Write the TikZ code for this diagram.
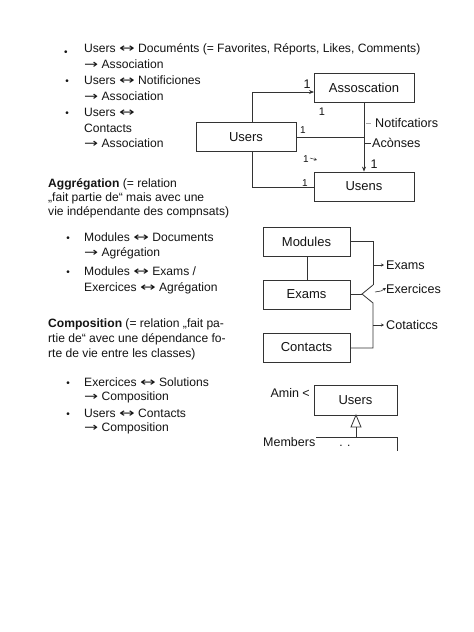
\documentclass[tikz,border=0pt]{standalone}
\usepackage{fontspec}
\setmainfont{Liberation Sans}
\newfontfamily\dvsfont{DejaVu Sans}
\usetikzlibrary{arrows.meta}
\newcommand{\myLR}{\scalebox{1.5}[1]{\dvsfont\fontsize{12.5}{14}\selectfont ↔}}
\newcommand{\myRA}{\scalebox{1.4}[1]{\dvsfont\fontsize{12}{14}\selectfont →}}
\definecolor{ink}{gray}{0.08}
\definecolor{lnc}{gray}{0.2}
\tikzset{
  txt/.style={anchor=base west, inner sep=0pt, text=ink, font=\fontsize{12.1}{14}\selectfont},
  bul/.style={anchor=base, inner sep=0pt, text=ink, font=\fontsize{10}{10}\selectfont},
  box/.style={draw=lnc, line width=0.8pt, minimum height=29pt, inner sep=0pt, text=ink, font=\fontsize{13}{15}\selectfont},
  ln/.style={draw=lnc, line width=0.8pt},
  arr/.style={-{Stealth[length=5pt,width=4pt]}},
  sarr/.style={-{Stealth[length=3pt,width=3pt]}},
  lbl/.style={inner sep=0pt, text=ink, font=\fontsize{10}{12}\selectfont},
  dlbl/.style={anchor=west, inner sep=0pt, text=ink, font=\fontsize{12.6}{14}\selectfont}
}
\begin{document}
\begin{tikzpicture}[x=1pt,y=-1pt]
\useasboundingbox (0,0) rectangle (474,632);
\fill[white] (0,0) rectangle (474,632);
\begin{scope}
\clip (0,0) rectangle (474,450);
% ---------- left text column ----------
\node[bul] (b1) at (66,55.3) {•};
\node[txt] (t1) at (84,52.3) {Users \myLR{} Documénts (= Favorites, Réports, Likes, Comments)};
\node[txt] (t2) at (84,68.3) {\myRA{} Association};
\node[bul] (b2) at (67,84.3) {•};
\node[txt] (t3) at (84,84.3) {Users \myLR{} Notificiones};
\node[txt] (t4) at (84,100.3) {\myRA{} Association};
\node[bul] (b3) at (67,116.3) {•};
\node[txt] (t5) at (84,116.3) {Users \myLR};
\node[txt] (t6) at (84,132.3) {Contacts};
\node[txt] (t7) at (84,147.3) {\myRA{} Association};

\node[txt] (a1) at (48,187.3) {\textbf{Aggrégation} (= relation};
\node[txt] (a2) at (48,201.3) {„fait partie de“ mais avec une};
\node[txt] (a3) at (48,215.3) {vie indépendante des compnsats)};
\node[bul] (b4) at (68,241.3) {•};
\node[txt] (a4) at (84,241.3) {Modules \myLR{} Documents};
\node[txt] (a5) at (84,256.3) {\myRA{} Agrégation};
\node[bul] (b5) at (68,275.3) {•};
\node[txt] (a6) at (84,275.3) {Modules \myLR{} Exams /};
\node[txt] (a7) at (84,291.3) {Exercices \myLR{} Agrégation};

\node[txt] (c1) at (48,327.3) {\textbf{Composition} (= relation „fait pa-};
\node[txt] (c2) at (48,342.3) {rtie de“ avec une dépendance fo-};
\node[txt] (c3) at (48,357.3) {rte de vie entre les classes)};
\node[bul] (b6) at (68,386.3) {•};
\node[txt] (c4) at (84,386.3) {Exercices \myLR{} Solutions};
\node[txt] (c5) at (84,400.3) {\myRA{} Composition};
\node[bul] (b7) at (68,417.3) {•};
\node[txt] (c6) at (84,417.3) {Users \myLR{} Contacts};
\node[txt] (c7) at (84,431.3) {\myRA{} Composition};

% ---------- diagram 1 ----------
\node[box, minimum width=100pt] (assoc) at (364,87.5) {Assoscation};
\node[box, minimum width=100pt] (users) at (246,137) {Users};
\node[box, minimum width=100pt] (usens) at (364,186.5) {Usens};
\coordinate (uup) at (252,122);
\coordinate (udn) at (252,152);
\coordinate (ain) at (314,92);
\draw[ln,arr] (uup) |- (ain);
\draw[ln,arr] (assoc.south) -- (usens.north);
\coordinate (jn) at (364,137);
\draw[ln] (users.east) -- (jn);
\coordinate (uin) at (314,187);
\draw[ln] (udn) |- (uin);
\node[lbl, font=\fontsize{12.5}{14}\selectfont] (l1) at (307,84) {1};
\node[lbl, font=\fontsize{11}{12}\selectfont] (l2) at (322,112) {1};
\node[lbl] (l3) at (303,130) {1};
\node[lbl] (l4) at (306,159) {1};
\coordinate (h1) at (310,158);
\coordinate (h2) at (317,160);
\draw[ln, line width=0.5pt, sarr] (h1) -- (h2);
\node[lbl, font=\fontsize{12.5}{14}\selectfont] (l5) at (374,164) {1};
\node[lbl] (l6) at (305,183) {1};
\coordinate (tk1) at (366,123);
\coordinate (tk2) at (371,123);
\draw[ln, draw=gray!70, line width=0.6pt] (tk1) -- (tk2);
\node[dlbl] (nt) at (375,123) {Notifcatiors};
\coordinate (tk3) at (364,143);
\coordinate (tk4) at (371,143);
\draw[ln, line width=0.6pt] (tk3) -- (tk4);
\node[dlbl] (ac) at (372,143) {Acònses};

% ---------- diagram 2 ----------
\node[box, minimum width=87pt] (mod) at (306.5,241.5) {Modules};
\node[box, minimum width=87pt] (exa) at (306.5,294.5) {Exams};
\node[box, minimum width=87pt] (con) at (306.5,347.5) {Contacts};
\coordinate (m1) at (307,256);
\coordinate (m2) at (307,280);
\draw[ln] (m1) -- (m2);
\coordinate (v1) at (373,241);
\coordinate (v2) at (373,285);
\draw[ln] (mod.east |- v1) -- (v1) -- (v2);
\coordinate (f0) at (362,294);
\coordinate (f1) at (373,285);
\coordinate (f2) at (373,303);
\coordinate (v3) at (373,348);
\draw[ln] (exa.east |- f0) -- (f0);
\draw[ln] (f1) -- (f0) -- (f2) -- (v3) -- (con.east |- v3);
\coordinate (e1) at (373,265);
\coordinate (e2) at (384,265);
\draw[ln, line width=0.6pt, sarr] (e1) -- (e2);
\node[dlbl] (ex1) at (386,265) {Exams};
\coordinate (e3) at (375,292);
\coordinate (e4) at (381,291);
\coordinate (e5) at (386,288);
\draw[ln, line width=0.6pt, sarr] (e3) -- (e4) -- (e5);
\node[dlbl] (ex2) at (386,289) {Exercices};
\coordinate (e6) at (373,325);
\coordinate (e7) at (384,325);
\draw[ln, line width=0.6pt, sarr] (e6) -- (e7);
\node[dlbl] (ex3) at (386,325) {Cotaticcs};

% ---------- diagram 3 ----------
\node[box, minimum width=83pt, minimum height=30pt] (us3) at (355.5,400) {Users};
\node[lbl, anchor=east, font=\fontsize{12.5}{14}\selectfont] (am) at (310,393) {Amin <};
\coordinate (tA) at (356,415);
\coordinate (tB) at (351,427);
\coordinate (tC) at (361,427);
\draw[ln, fill=white] (tA) -- (tB) -- (tC) -- cycle;
\coordinate (tD) at (356,437);
\draw[ln] (356,427) -- (tD);
\coordinate (hl) at (316,437);
\coordinate (hr) at (397,437);
\coordinate (hd) at (397,452);
\draw[ln] (hl) -- (hr) -- (hd);
\node[lbl, anchor=west, font=\fontsize{12.5}{14}\selectfont] (mem) at (263,442) {Members};
\node[lbl, font=\fontsize{12}{14}\selectfont] (dots) at (345,446) {. .};
\end{scope}
\end{tikzpicture}
\end{document}
